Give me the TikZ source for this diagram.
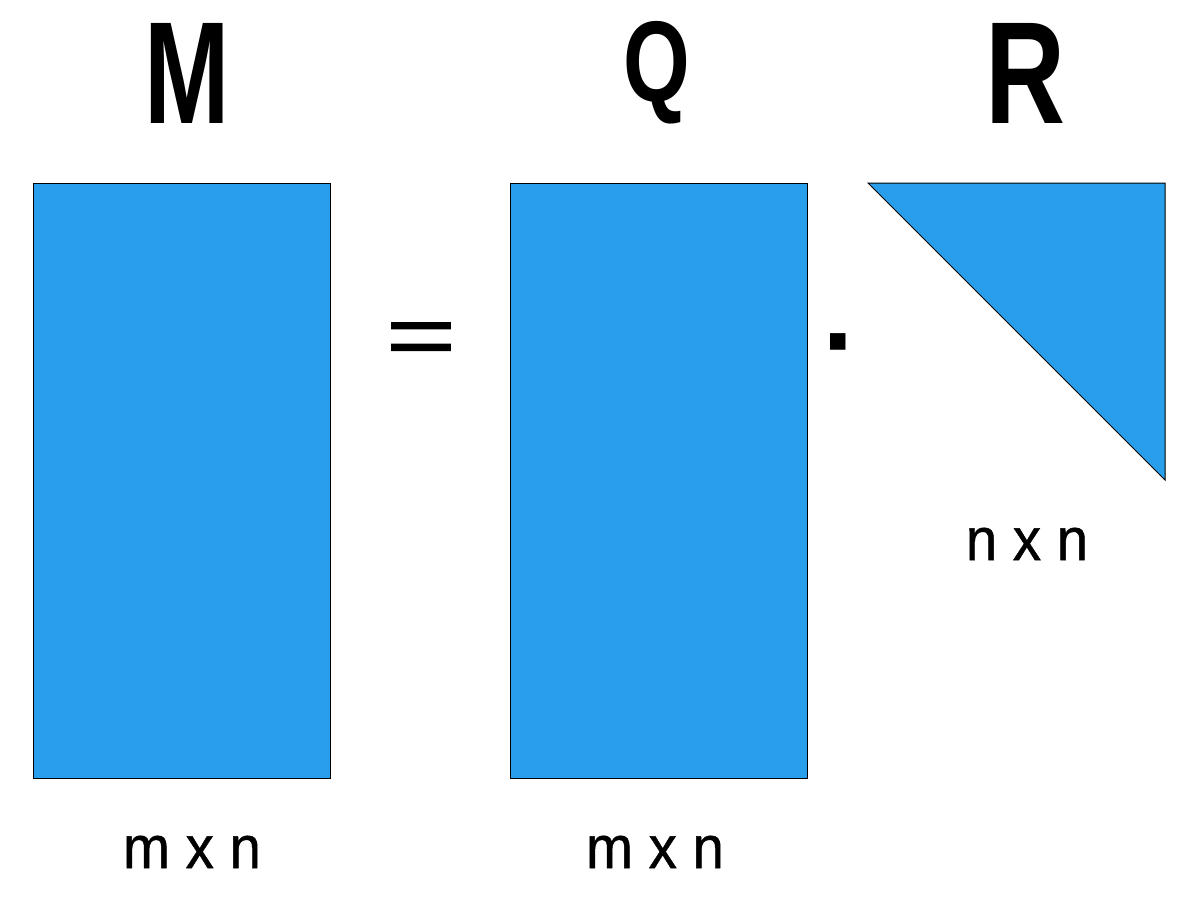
\documentclass[tikz,border=0pt]{standalone}
\usepackage{fontspec}
\setmainfont{Liberation Sans}
\newfontfamily\symfont{DejaVu Sans}
\newfontfamily\dimfont[FakeBold=0.8]{Liberation Sans}
\newfontfamily\eqfont[FakeBold=1.2]{Liberation Sans}
\usepackage{graphicx}
\definecolor{matblue}{RGB}{41,159,236}
\begin{document}
\begin{tikzpicture}[x=0.75pt,y=-0.75pt,
  mat/.style={fill=matblue,draw=black,line width=0.75pt},
  head/.style={inner sep=0pt,anchor=base,font=\bfseries},
  dims/.style={inner sep=0pt,anchor=base,font=\fontsize{45}{45}\selectfont\dimfont},
  op/.style={inner sep=0pt,anchor=base,font=\fontsize{66}{66}\selectfont\symfont\bfseries},
  eqop/.style={inner sep=0pt,anchor=base,font=\fontsize{90}{90}\selectfont\eqfont}]
\useasboundingbox (0,0) rectangle (1200,897);
\fill[white] (0,0) rectangle (1200,897);
% matrices
\draw[mat] (33,183) rectangle (330,778);
\draw[mat] (510,183) rectangle (807,778);
\draw[mat] (868,183) -- (1165,183) -- (1165,480) -- cycle;
% headings
\node[head] (hM) at (187,123) {\resizebox{64pt}{75pt}{M}};
\node[head,anchor=south] (hQ) at (656.5,124) {\resizebox*{50pt}{77pt}{Q}};
\node[head] (hR) at (1026,123) {\resizebox{60pt}{75pt}{R}};
% operators
\node[eqop] (eq) at (421,365) {\scalebox{1}[0.72]{=}};
\node[op] (dot) at (838,372) {·};
% dimensions
\node[dims] (dM) at (192,868) {\scalebox{0.94}[1]{m x n}};
\node[dims] (dQ) at (655,868) {\scalebox{0.94}[1]{m x n}};
\node[dims] (dR) at (1027,560) {\scalebox{0.94}[1]{n x n}};
\end{tikzpicture}
\end{document}
